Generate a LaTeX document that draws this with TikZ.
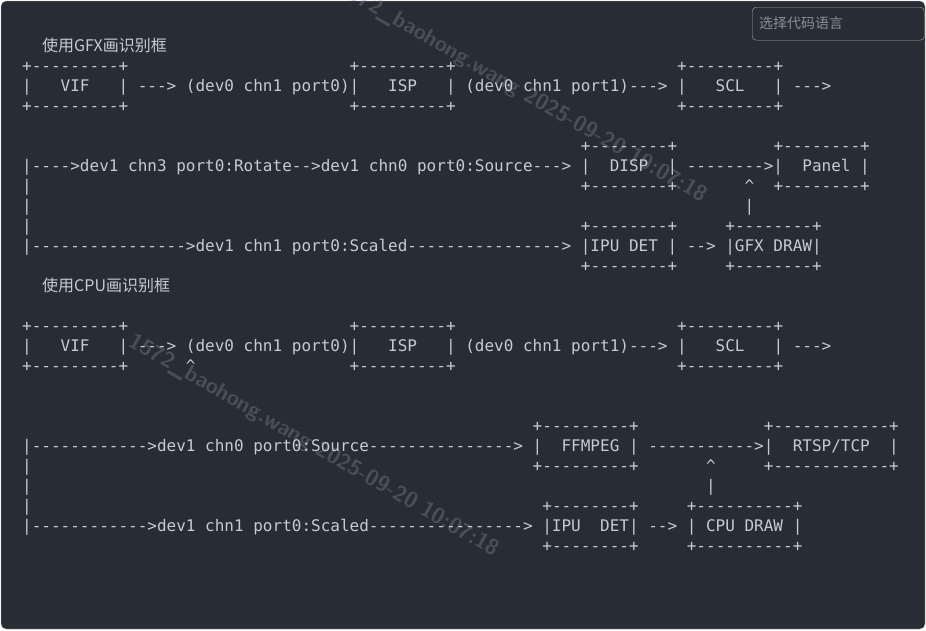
\documentclass[tikz,border=0pt]{standalone}
\usepackage{fontspec}
\setmonofont{DejaVu Sans Mono}
\newfontfamily\cjk{Noto Sans CJK SC}
\definecolor{bg}{HTML}{282C34}
\definecolor{fg}{HTML}{C5CAD3}
\definecolor{wm}{HTML}{8A8F98}
\begin{document}
\begin{tikzpicture}[x=1pt,y=-1pt,
  ln/.style={anchor=base west,inner sep=0,text=fg,font=\ttfamily\fontsize{16}{20}\selectfont},
  ttl/.style={anchor=base west,inner sep=0,text=fg,font=\cjk\fontsize{16}{18}\selectfont},
  wmk/.style={anchor=east,inner sep=0,text=wm,opacity=0.35,rotate=-30,font=\sffamily\bfseries\fontsize{22}{24}\selectfont}]
\useasboundingbox (0,0) rectangle (926,630);
\fill[white] (0,0) rectangle (926,630);
\filldraw[fill=bg,draw=gray!60,rounded corners=5pt] (1,1) rectangle (925,629);
\node[draw=gray!70,rounded corners=4pt,minimum width=172,minimum height=33,inner sep=0,anchor=north west] (sel) at (752,7) {};
\node[anchor=west,inner sep=0,text=wm,font=\cjk\fontsize{14}{16}\selectfont] (selt) at (759,23.5) {选择代码语言};
% watermarks
\node[wmk] (w1) at (705,198) {1572\_baohong.wang 2025-09-20 10:07:18};
\node[wmk] (w2) at (497,552) {1572\_baohong.wang 2025-09-20 10:07:18};
% block 1
\node[ttl] (t1) at (42,51) {使用GFX画识别框};
\node[ln] (a1) at (22,71) {+---------+~~~~~~~~~~~~~~~~~~~~~~~+---------+~~~~~~~~~~~~~~~~~~~~~~~+---------+};
\node[ln] (a2) at (22,91) {|~~~VIF~~~|~--->~(dev0~chn1~port0)|~~~ISP~~~|~(dev0~chn1~port1)--->~|~~~SCL~~~|~--->};
\node[ln] (a3) at (22,111) {+---------+~~~~~~~~~~~~~~~~~~~~~~~+---------+~~~~~~~~~~~~~~~~~~~~~~~+---------+};
\node[ln] (a4) at (22,151) {~~~~~~~~~~~~~~~~~~~~~~~~~~~~~~~~~~~~~~~~~~~~~~~~~~~~~~~~~~+--------+~~~~~~~~~~+--------+};
\node[ln] (a5) at (22,171) {|---->dev1~chn3~port0:Rotate-->dev1~chn0~port0:Source--->~|~~DISP~~|~-------->|~~Panel~|};
\node[ln] (a6) at (22,191) {|~~~~~~~~~~~~~~~~~~~~~~~~~~~~~~~~~~~~~~~~~~~~~~~~~~~~~~~~~+--------+~~~~~~~\textasciicircum~~+--------+};
\node[ln] (a7) at (22,211) {|~~~~~~~~~~~~~~~~~~~~~~~~~~~~~~~~~~~~~~~~~~~~~~~~~~~~~~~~~~~~~~~~~~~~~~~~~~|};
\node[ln] (a8) at (22,231) {|~~~~~~~~~~~~~~~~~~~~~~~~~~~~~~~~~~~~~~~~~~~~~~~~~~~~~~~~~+--------+~~~~~+--------+};
\node[ln] (a9) at (22,251) {|---------------->dev1~chn1~port0:Scaled---------------->~|IPU~DET~|~-->~|GFX~DRAW|};
\node[ln] (a10) at (22,271) {~~~~~~~~~~~~~~~~~~~~~~~~~~~~~~~~~~~~~~~~~~~~~~~~~~~~~~~~~~+--------+~~~~~+--------+};
% block 2
\node[ttl] (t2) at (42,291) {使用CPU画识别框};
\node[ln] (b1) at (22,331) {+---------+~~~~~~~~~~~~~~~~~~~~~~~+---------+~~~~~~~~~~~~~~~~~~~~~~~+---------+};
\node[ln] (b2) at (22,351) {|~~~VIF~~~|~--->~(dev0~chn1~port0)|~~~ISP~~~|~(dev0~chn1~port1)--->~|~~~SCL~~~|~--->};
\node[ln] (b3) at (22,371) {+---------+~~~~~~\textasciicircum~~~~~~~~~~~~~~~~+---------+~~~~~~~~~~~~~~~~~~~~~~~+---------+};
\node[ln] (b4) at (22,431) {~~~~~~~~~~~~~~~~~~~~~~~~~~~~~~~~~~~~~~~~~~~~~~~~~~~~~+---------+~~~~~~~~~~~~~+------------+};
\node[ln] (b5) at (22,451) {|------------>dev1~chn0~port0:Source--------------->~|~~FFMPEG~|~----------->|~~RTSP/TCP~~|};
\node[ln] (b6) at (22,471) {|~~~~~~~~~~~~~~~~~~~~~~~~~~~~~~~~~~~~~~~~~~~~~~~~~~~~+---------+~~~~~~~\textasciicircum~~~~~+------------+};
\node[ln] (b7) at (22,491) {|~~~~~~~~~~~~~~~~~~~~~~~~~~~~~~~~~~~~~~~~~~~~~~~~~~~~~~~~~~~~~~~~~~~~~~|};
\node[ln] (b8) at (22,511) {|~~~~~~~~~~~~~~~~~~~~~~~~~~~~~~~~~~~~~~~~~~~~~~~~~~~~~+--------+~~~~~+----------+};
\node[ln] (b9) at (22,531) {|------------>dev1~chn1~port0:Scaled---------------->~|IPU~~DET|~-->~|~CPU~DRAW~|};
\node[ln] (b10) at (22,551) {~~~~~~~~~~~~~~~~~~~~~~~~~~~~~~~~~~~~~~~~~~~~~~~~~~~~~~+--------+~~~~~+----------+};
\end{tikzpicture}
\end{document}
